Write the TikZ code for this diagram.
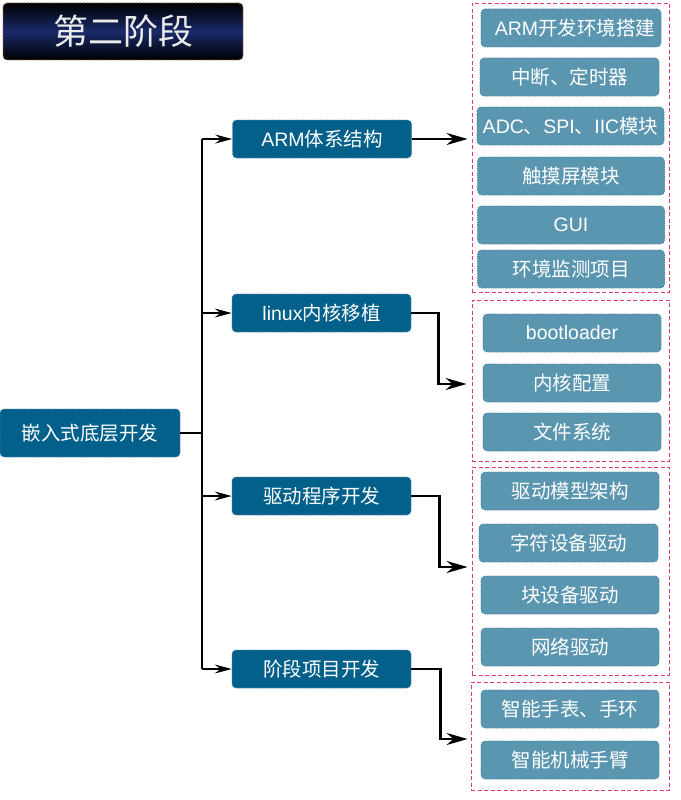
\documentclass[tikz,border=0pt]{standalone}
\usepackage{fontspec}
\setmainfont{Noto Sans CJK SC}
\newfontfamily\lat{Liberation Sans}
\usetikzlibrary{arrows.meta,calc}
\definecolor{branchc}{HTML}{03608A}
\definecolor{itemc}{HTML}{5B96B1}
\definecolor{edgec}{HTML}{4A88B0}
\definecolor{itemedge}{HTML}{3E7C9C}
\definecolor{grpc}{HTML}{E23A6E}
\definecolor{navy}{HTML}{1A2A6A}
\definecolor{titleedge}{HTML}{9A6A4A}
\tikzset{
  base/.style={rounded corners=4pt, text=white, inner sep=0pt, align=center},
  branch/.style={base, fill=branchc, draw=edgec, dash pattern=on 1.2pt off 1.2pt, line width=0.7pt,
    minimum width=179pt, minimum height=38pt, font=\fontsize{19.5}{22}\selectfont},
  item/.style={base, fill=itemc, draw=itemedge, dash pattern=on 1.2pt off 1.2pt, line width=0.7pt,
    minimum height=38pt, font=\fontsize{19.5}{22}\selectfont},
  grp/.style={draw=grpc, dash pattern=on 4pt off 2.5pt, line width=0.9pt, inner sep=0pt},
  arr/.style={line width=1.8pt, -{Stealth[length=17pt,width=9pt,inset=6pt]}},
  bigarr/.style={line width=2.4pt, line join=miter, -{Stealth[length=21pt,width=12pt,inset=7pt]}},
  ln/.style={line width=2pt},
}
\begin{document}
\begin{tikzpicture}[x=1pt,y=-1pt]
\useasboundingbox (0,0) rectangle (680,800);
% title
\node[rounded corners=4pt, top color=black, bottom color=black, middle color=navy,
  draw=titleedge, dash pattern=on 2pt off 1.5pt, line width=0.9pt,
  minimum width=240pt, minimum height=57pt, text=white!92!black,
  font=\fontsize{35}{40}\selectfont] (title) at (123,31.5) {第二阶段};
% groups
\node[grp, minimum width=197pt, minimum height=289pt] (g1) at (570.5,147.5) {};
\node[grp, minimum width=197pt, minimum height=161pt] (g2) at (570.5,380.5) {};
\node[grp, minimum width=197pt, minimum height=208pt] (g3) at (570.5,571) {};
\node[grp, minimum width=198pt, minimum height=108pt] (g4) at (570,736) {};
% items group1
\node[item, minimum width=180pt] (i11) at (571,28) {\hspace*{8pt}{\lat ARM}开发环境搭建};
\node[item, minimum width=179pt] (i12) at (569.5,77) {中断、定时器};
\node[item, minimum width=187pt] (i13) at (570.5,126) {{\lat ADC}、{\lat SPI}、{\lat IIC}模块};
\node[item, minimum width=187pt] (i14) at (571,176) {触摸屏模块};
\node[item, minimum width=187pt] (i15) at (571,225) {{\lat GUI}};
\node[item, minimum width=187pt] (i16) at (571,269) {环境监测项目};
% group2
\node[item, minimum width=178pt] (i21) at (572,333) {{\lat bootloader}};
\node[item, minimum width=178pt] (i22) at (572,383) {内核配置};
\node[item, minimum width=178pt] (i23) at (572,432) {文件系统};
% group3
\node[item, minimum width=178pt] (i31) at (570,491) {驱动模型架构};
\node[item, minimum width=179pt] (i32) at (568.5,543) {字符设备驱动};
\node[item, minimum width=178pt] (i33) at (570,595) {块设备驱动};
\node[item, minimum width=178pt] (i34) at (570,647) {网络驱动};
% group4
\node[item, minimum width=178pt] (i41) at (570,709) {智能手表、手环};
\node[item, minimum width=178pt] (i42) at (570,760) {智能机械手臂};
% root and branches
\node[branch, minimum width=180pt, minimum height=48pt] (root) at (90,433) {嵌入式底层开发};
\node[branch] (b1) at (322,139) {{\lat ARM}体系结构};
\node[branch] (b2) at (321.5,313) {{\lat linux}内核移植};
\node[branch] (b3) at (321.5,496) {驱动程序开发};
\node[branch] (b4) at (321.5,669) {阶段项目开发};
% trunk
\coordinate (tr) at (202,433);
\draw[ln] (root.east) -- (tr);
\draw[ln] (b1.west -| tr) -- (b4.west -| tr);
\foreach \b in {b1,b2,b3,b4} {
  \draw[arr] (\b.west -| tr) -- (\b.west);
}
% branch to groups
\coordinate (t1) at ($(b1.east -| g1.west)+(-4,0)$);
\draw[bigarr] (b1.east) -- (t1);
\coordinate (t2) at ($(g2.west)+(-5,3.5)$);
\coordinate (m2) at ($(b2.east)+(27,0)$);
\draw[bigarr] (b2.east) -- (m2) -- (m2 |- t2) -- (t2);
\coordinate (t3) at ($(g3.west)+(-4,-4)$);
\coordinate (m3) at ($(b3.east)+(28,0)$);
\draw[bigarr] (b3.east) -- (m3) -- (m3 |- t3) -- (t3);
\coordinate (t4) at ($(g4.west)+(-3,3)$);
\coordinate (m4) at ($(b4.east)+(29,0)$);
\draw[bigarr] (b4.east) -- (m4) -- (m4 |- t4) -- (t4);
\end{tikzpicture}
\end{document}
